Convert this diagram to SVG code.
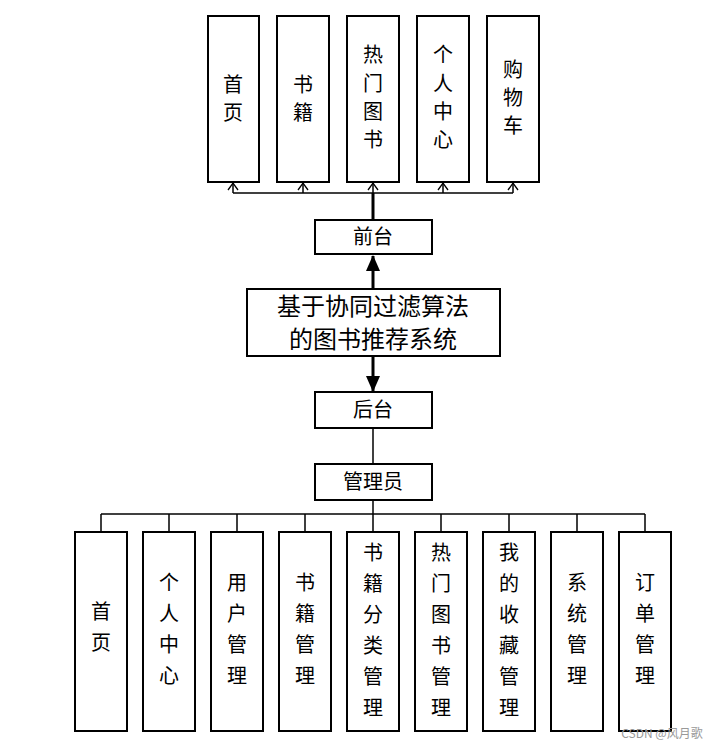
<svg xmlns="http://www.w3.org/2000/svg" width="726" height="749" viewBox="0 0 726 749">
<style>
rect{fill:#fff;stroke:#000;stroke-width:2}
text{font-family:"Noto Sans CJK SC","Noto Sans",sans-serif;font-size:20px;text-anchor:middle;fill:#000}
.c line,.c path{stroke:#000;stroke-width:1.5;fill:none}
</style>
<defs>
<marker id="open" markerWidth="10" markerHeight="12" refX="8" refY="6" orient="auto" markerUnits="userSpaceOnUse" viewBox="0 0 10 12">
<path d="M1,1 L8,6 L1,11" fill="none" stroke="#000" stroke-width="1.3"/></marker>
<marker id="fill" markerWidth="16" markerHeight="14" refX="15" refY="7" orient="auto" markerUnits="userSpaceOnUse" viewBox="0 0 16 14">
<path d="M0,0 L16,7 L0,14 Z" fill="#000"/></marker>
</defs>
<rect width="726" height="749" style="stroke:none"/>
<g class="c" id="connectors">
<line x1="233" y1="193" x2="513" y2="193"/>
<line x1="233" y1="193" x2="233" y2="183" marker-end="url(#open)"/>
<line x1="303" y1="193" x2="303" y2="183" marker-end="url(#open)"/>
<line x1="373" y1="193" x2="373" y2="183" marker-end="url(#open)"/>
<line x1="443" y1="193" x2="443" y2="183" marker-end="url(#open)"/>
<line x1="513" y1="193" x2="513" y2="183" marker-end="url(#open)"/>
<line x1="373" y1="220" x2="373" y2="193" style="stroke-width:3"/>
<line x1="373" y1="289" x2="373" y2="256" style="stroke-width:3" marker-end="url(#fill)"/>
<line x1="373" y1="356" x2="373" y2="391" style="stroke-width:3" marker-end="url(#fill)"/>
<line x1="373" y1="428" x2="373" y2="464"/>
<line x1="373" y1="500" x2="373" y2="514"/>
<line x1="101" y1="514" x2="645" y2="514"/>
<path d="M101,514V532M169,514V532M237,514V532M305,514V532M373,514V532M441,514V532M509,514V532M577,514V532M645,514V532"/>
</g>
<g id="t1"><rect x="208" y="16" width="51" height="166"/><text x="233" y="92">首</text><text x="233" y="120">页</text></g>
<g id="t2"><rect x="277" y="16" width="52" height="166"/><text x="303" y="92">书</text><text x="303" y="120">籍</text></g>
<g id="t3"><rect x="347" y="16" width="52" height="166"/><text x="373" y="62">热</text><text x="373" y="91">门</text><text x="373" y="119">图</text><text x="373" y="147">书</text></g>
<g id="t4"><rect x="417" y="16" width="52" height="166"/><text x="443" y="62">个</text><text x="443" y="91">人</text><text x="443" y="119">中</text><text x="443" y="147">心</text></g>
<g id="t5"><rect x="487" y="16" width="52" height="166"/><text x="513" y="77">购</text><text x="513" y="105">物</text><text x="513" y="133">车</text></g>
<g id="qt"><rect x="315" y="220" width="117" height="34"/><text x="373" y="244">前台</text></g>
<g id="main"><rect x="247" y="289" width="253" height="67"/><text x="373" y="315" style="font-size:24px">基于协同过滤算法</text><text x="373" y="348" style="font-size:24px">的图书推荐系统</text></g>
<g id="ht"><rect x="315" y="392" width="117" height="36"/><text x="373" y="417">后台</text></g>
<g id="gly"><rect x="315" y="464" width="117" height="36"/><text x="373" y="489">管理员</text></g>
<g id="b1"><rect x="75" y="532" width="52" height="199"/><text x="101" y="619">首</text><text x="101" y="650">页</text></g>
<g id="b2"><rect x="143" y="532" width="52" height="199"/><text x="169" y="590">个</text><text x="169" y="621">人</text><text x="169" y="652">中</text><text x="169" y="683">心</text></g>
<g id="b3"><rect x="211" y="532" width="52" height="199"/><text x="237" y="590">用</text><text x="237" y="621">户</text><text x="237" y="652">管</text><text x="237" y="683">理</text></g>
<g id="b4"><rect x="279" y="532" width="52" height="199"/><text x="305" y="590">书</text><text x="305" y="621">籍</text><text x="305" y="652">管</text><text x="305" y="683">理</text></g>
<g id="b5"><rect x="347" y="532" width="52" height="199"/><text x="373" y="560">书</text><text x="373" y="591">籍</text><text x="373" y="622">分</text><text x="373" y="653">类</text><text x="373" y="684">管</text><text x="373" y="715">理</text></g>
<g id="b6"><rect x="415" y="532" width="52" height="199"/><text x="441" y="560">热</text><text x="441" y="591">门</text><text x="441" y="622">图</text><text x="441" y="653">书</text><text x="441" y="684">管</text><text x="441" y="715">理</text></g>
<g id="b7"><rect x="483" y="532" width="52" height="199"/><text x="509" y="560">我</text><text x="509" y="591">的</text><text x="509" y="622">收</text><text x="509" y="653">藏</text><text x="509" y="684">管</text><text x="509" y="715">理</text></g>
<g id="b8"><rect x="551" y="532" width="52" height="199"/><text x="577" y="590">系</text><text x="577" y="621">统</text><text x="577" y="652">管</text><text x="577" y="683">理</text></g>
<g id="b9"><rect x="619" y="532" width="52" height="199"/><text x="645" y="590">订</text><text x="645" y="621">单</text><text x="645" y="652">管</text><text x="645" y="683">理</text></g>
<text x="662" y="738" style="font-size:12px;fill:#999">CSDN @风月歌</text>
</svg>
